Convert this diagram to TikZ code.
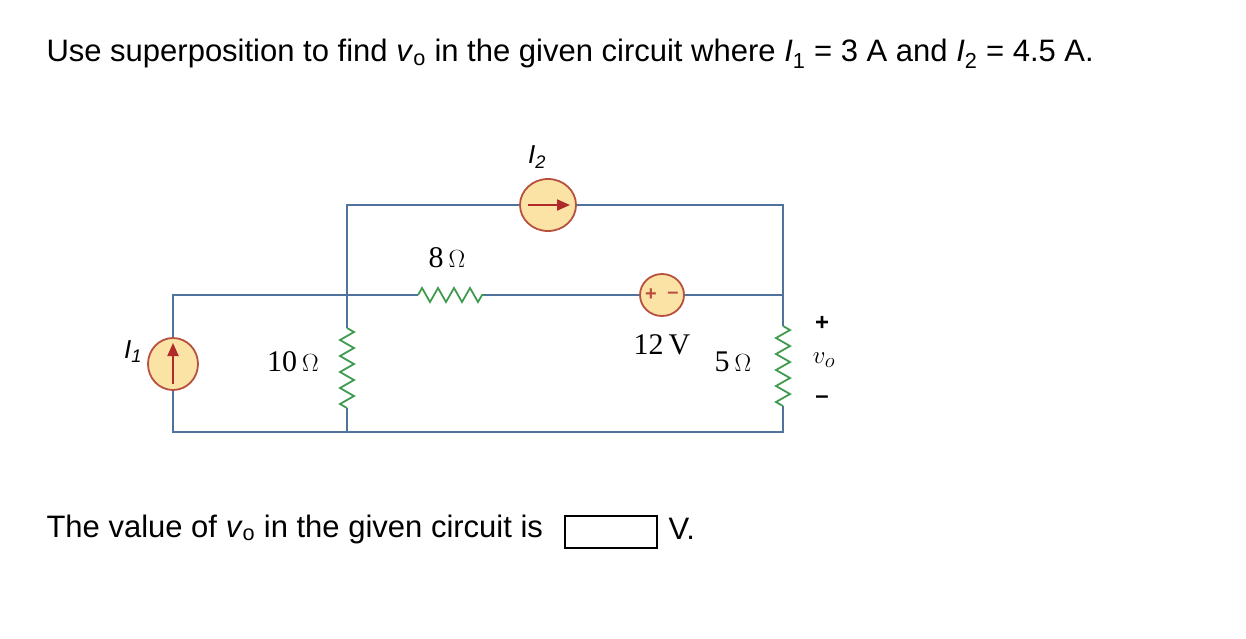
\documentclass[tikz,border=0pt]{standalone}
\usepackage{fontspec}
\setmainfont{Liberation Sans}
\newfontfamily\ser{Liberation Serif}
\usetikzlibrary{decorations.pathmorphing,arrows.meta,shapes.geometric}
\definecolor{wire}{HTML}{4F739C}
\definecolor{res}{HTML}{3E9A4E}
\definecolor{srcf}{HTML}{FBE3A6}
\definecolor{srce}{HTML}{B8503F}
\definecolor{arr}{HTML}{B02A2A}
\begin{document}
\begin{tikzpicture}[x=1pt,y=-1pt,
 w/.style={wire,line width=1.8pt},
 r/.style={res,line width=1.8pt,decorate,decoration={zigzag,segment length=16,amplitude=7}},
 src/.style={ellipse,draw=srce,fill=srcf,line width=1.8pt,inner sep=0},
 lab/.style={font=\ser\fontsize{30}{30}\selectfont},
 txt/.style={font=\fontsize{31}{34}\selectfont,anchor=west}]
\useasboundingbox (0,0) rectangle (1246,638);
\coordinate (tl) at (347,205); \coordinate (tr) at (783,205);
\coordinate (ml) at (173,295); \coordinate (mn) at (347,295); \coordinate (mr) at (783,295);
\coordinate (bl) at (173,432); \coordinate (bn) at (347,432); \coordinate (br) at (783,432);
\coordinate (r8a) at (418,295); \coordinate (r8b) at (484,295);
\coordinate (r10a) at (347,328); \coordinate (r10b) at (347,408);
\coordinate (r5a) at (783,326); \coordinate (r5b) at (783,406);
\node[src,minimum width=50,minimum height=52] (i1) at (173,364) {};
\node[src,minimum width=56,minimum height=52] (i2) at (548,205) {};
\node[src,minimum width=44,minimum height=42] (v12) at (662,295) {};
\draw[w] (i1) -- (ml) -- (r8a); \draw[w] (r8b) -- (v12) -- (mr);
\draw[w] (i1) -- (bl) -- (br) -- (r5b); \draw[w] (r5a) -- (mr) -- (tr) -- (i2) -- (tl) -- (mn) -- (r10a);
\draw[w] (r10b) -- (bn);
\draw[r] (r8a) -- (r8b); \draw[r] (r10a) -- (r10b); \draw[r] (r5a) -- (r5b);
\draw[arr,line width=2pt,-{Triangle[length=13,width=11]}] (173,384) -- (173,343);
\draw[arr,line width=2pt,-{Triangle[length=13,width=11]}] (528,205) -- (570,205);
\node[text=srce,font=\bfseries\fontsize{20}{20}\selectfont] (pl) at (651,295) {+};
\node[text=srce,font=\bfseries\fontsize{20}{20}\selectfont] (mi) at (673,295) {--};
\node[lab] (l8) at (447,258) {8\,$\Omega$};
\node[lab] (l10) at (293,362) {10\,$\Omega$};
\node[lab] (l12) at (662,345) {12\,V};
\node[lab] (l5) at (733,362) {5\,$\Omega$};
\node[font=\fontsize{26}{26}\selectfont\itshape] (li2) at (537,157) {I\textsubscript{2}};
\node[font=\fontsize{26}{26}\selectfont\itshape] (li1) at (133,352) {I\textsubscript{1}};
\node[font=\bfseries\fontsize{24}{24}\selectfont] (vp) at (822,323) {+};
\node[lab] (vo) at (824,360) {$v_o$};
\node[font=\bfseries\fontsize{24}{24}\selectfont] (vm) at (822,400) {--};
\node[txt] (t1) at (43,54) {Use superposition to find \textit{v}\textsubscript{o} in the given circuit where \textit{I}\textsubscript{1} = 3 A and \textit{I}\textsubscript{2} = 4.5 A.};
\node[txt] (t2) at (43,529) {The value of \textit{v}\textsubscript{o} in the given circuit is};
\node[draw,line width=1.2pt,minimum width=92,minimum height=32,inner sep=0] (box) at (611,532) {};
\node[txt] (t3) at (665,529) {V.};
\end{tikzpicture}
\end{document}
